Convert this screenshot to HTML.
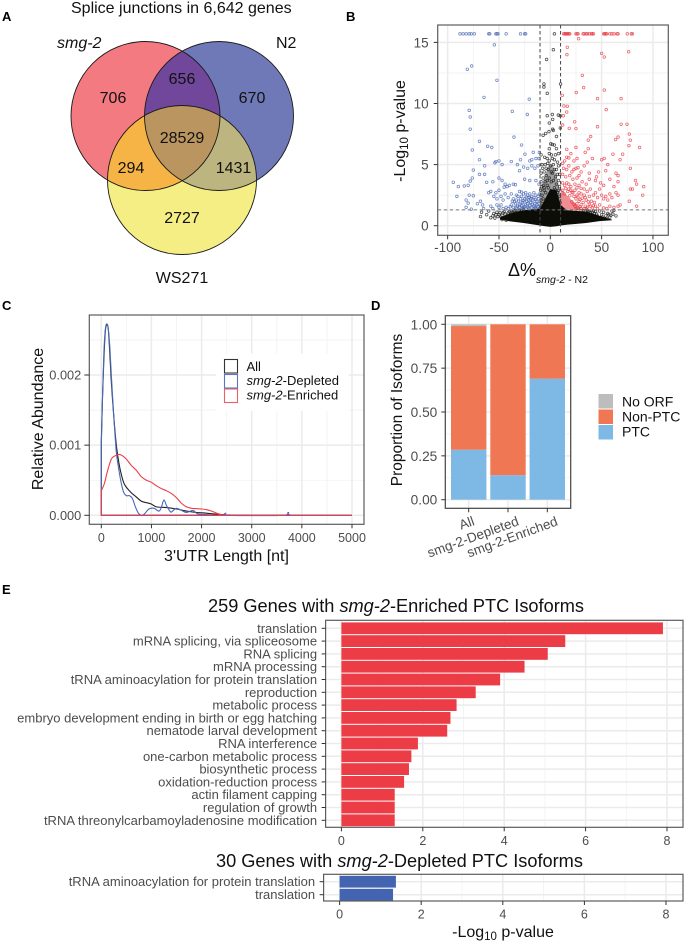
<!DOCTYPE html>
<html lang="en">
<head>
<meta charset="utf-8">
<title>Splice junction figure</title>
<style>
html,body{margin:0;padding:0;background:#fff;}
svg{display:block;font-family:"Liberation Sans",Arial,sans-serif;}
.letter{font-size:13px;font-weight:bold;fill:#000;}
.num{font-size:16px;fill:#111;text-anchor:middle;}
.title{font-size:16px;fill:#111;}
</style>
</head>
<body>
<svg id="fig" xmlns="http://www.w3.org/2000/svg" width="685" height="943" viewBox="0 0 685 943">
  <rect x="0" y="0" width="685" height="943" fill="#fff"/>
  <text class="letter" x="2" y="21">A</text>
  <text class="letter" x="346" y="21">B</text>
  <text class="letter" x="2" y="310">C</text>
  <text class="letter" x="371" y="310">D</text>
  <text class="letter" x="2" y="594">E</text>

  <g>
    <defs>
      <clipPath id="clipSmg"><circle cx="145.5" cy="116" r="74.5"/></clipPath>
      <clipPath id="clipN2"><circle cx="219" cy="116" r="74.5"/></clipPath>
      <clipPath id="clipWs"><circle cx="182" cy="180" r="74.5"/></clipPath>
    </defs>
    <text class="title" x="71" y="13">Splice junctions in 6,642 genes</text>
    <circle cx="145.5" cy="116" r="74.5" fill="#f27a80"/>
    <circle cx="219" cy="116" r="74.5" fill="#6f79b8"/>
    <g clip-path="url(#clipSmg)"><circle cx="219" cy="116" r="74.5" fill="#70479a"/></g>
    <circle cx="182" cy="180" r="74.5" fill="#f5ee85"/>
    <g clip-path="url(#clipWs)">
      <circle cx="145.5" cy="116" r="74.5" fill="#f5b445"/>
      <circle cx="219" cy="116" r="74.5" fill="#bcb57f"/>
      <g clip-path="url(#clipSmg)"><circle cx="219" cy="116" r="74.5" fill="#bb9560"/></g>
    </g>
    <g fill="none" stroke="#1a1a1a" stroke-width="0.9">
      <circle cx="145.5" cy="116" r="74.5"/>
      <circle cx="219" cy="116" r="74.5"/>
      <circle cx="182" cy="180" r="74.5"/>
    </g>
    <text class="title" x="57" y="48" font-style="italic">smg-2</text>
    <text class="title" x="276" y="48">N2</text>
    <text class="num" x="182" y="283">WS271</text>
    <text class="num" x="113" y="103">706</text>
    <text class="num" x="182" y="84">656</text>
    <text class="num" x="252" y="103">670</text>
    <text class="num" x="182" y="143">28529</text>
    <text class="num" x="131" y="173">294</text>
    <text class="num" x="233.5" y="173">1431</text>
    <text class="num" x="182" y="223">2727</text>
  </g>

  <g id="volcano"></g>
  <text transform="translate(405,131) rotate(-90)" text-anchor="middle" font-size="16" fill="#111">-Log<tspan font-size="11.5" dy="3">10</tspan><tspan dy="-3"> p-value</tspan></text>
  <text x="508" y="276" font-size="18" fill="#111">Δ%<tspan font-size="10.5" dy="7" font-style="italic">smg-2</tspan><tspan font-size="10.5"> - N2</tspan></text>

  <g id="density"></g>
  <text transform="translate(43,419) rotate(-90)" text-anchor="middle" font-size="16" fill="#111">Relative Abundance</text>
  <text x="226.5" y="561" text-anchor="middle" font-size="16" fill="#111">3'UTR Length [nt]</text>
  <g>
    <rect x="216" y="354" width="133" height="57" fill="#fff"/>
    <rect x="224.5" y="359.5" width="13" height="13.5" fill="#fff" stroke="#333" stroke-width="1.1"/>
    <rect x="224.5" y="374.5" width="13" height="13.5" fill="#fff" stroke="#5b76bd" stroke-width="1.1"/>
    <rect x="224.5" y="389" width="13" height="13.5" fill="#fff" stroke="#e8606a" stroke-width="1.1"/>
    <text x="246.5" y="371" font-size="13" fill="#111">All</text>
    <text x="246.5" y="385" font-size="13" fill="#111"><tspan font-style="italic">smg-2</tspan>-Depleted</text>
    <text x="246.5" y="399.5" font-size="13" fill="#111"><tspan font-style="italic">smg-2</tspan>-Enriched</text>
  </g>

  <g id="stacked"></g>
  <text transform="translate(402,410) rotate(-90)" text-anchor="middle" font-size="15.5" fill="#111">Proportion of Isoforms</text>
  <g>
    <rect x="598.5" y="394" width="14.5" height="14.5" fill="#bdbdbd"/>
    <rect x="598.5" y="409.5" width="14.5" height="14.5" fill="#ef7753"/>
    <rect x="598.5" y="425" width="14.5" height="14.5" fill="#7eb8e4"/>
    <text x="622" y="406.5" font-size="14" fill="#111">No ORF</text>
    <text x="622" y="421.5" font-size="14" fill="#111">Non-PTC</text>
    <text x="622" y="436.5" font-size="14" fill="#111">PTC</text>
  </g>

  <text x="208" y="612" font-size="18.2" fill="#111">259 Genes with <tspan font-style="italic">smg-2</tspan>-Enriched PTC Isoforms</text>
  <g id="goEnriched"></g>
  <text x="216" y="867" font-size="18.2" fill="#111">30 Genes with <tspan font-style="italic">smg-2</tspan>-Depleted PTC Isoforms</text>
  <g id="goDepleted"></g>
  <text x="503" y="937" text-anchor="middle" font-size="16" fill="#111">-Log<tspan font-size="11.5" dy="3">10</tspan><tspan dy="-3"> p-value</tspan></text>
</svg>

<script>
/* ---------- Volcano data (delta %, -log10 p) ---------- */
const volcanoCap = 15.7;
const blueTopDelta = [-88,-85,-82,-79,-77,-74,-60,-59,-53,-52,-51,-43,-29,-25,-24];
const blackTopDelta = [4];
const redTopDelta = [13,14,15,16,17,18,19,25,26,27,32,33,35,36,38,40,41,42,52,53,54,55,58,60,62,65,66,75,79,80];
const bluePoints = [[-54.5,14.8],[-76.6,13.07],[-80.8,12.8],[-52,11.9],[-64.6,10.5],[-20.5,10.35],[-79,9.44],[-37,9.36],[-78,8.9],[-22.4,9.1],[-78,7.9],[-35.4,7.25],[-69,6.9],[-28,6.6],[-76,6.2],[-61,6.5],[-57,6.4],[-24.7,5.85],[-16.6,6],[-10.7,6],[-69,5.4],[-54,5.15],[-53,5.25],[-50,5.3],[-47,5],[-38,5.25],[-32,5],[-29,5.4],[-20,5.3],[-18,5.4],[-14,5.5],[-11,5.5],[-64,4.9],[-75,4.55],[-69,4.2],[-64,4.2],[-62,3.55],[-76,3.9],[-78,3.65],[-80,3.3],[-83.8,3.25],[-89.6,3.2],[-94.5,3.55],[-91,2.4],[-79,2.5],[-75,2.45],[-82,2.1],[-80,1.85],[-82,1.5],[-77,1.35],[-68,2],[-71,1.8],[-66,1.7],[-65,1.4],[-60,2.7],[-58,2.8],[-56,3.6],[-50,3.9],[-47,3.7],[-44,3.4],[-42,3.2],[-40,3.3],[-36,3.4],[-34,3.35],[-30,4.5],[-26,4.8],[-22,4.7],[-18,4.9],[-15,4.7],[-12,4.9],[-25,3.8],[-20,3.7],[-14,3.7],[-11,3.4],[-45,3.15],[-50,2.9],[-53,2.7],[-55,2.4],[-52,2.2],[-48,2.4],[-46,2.1],[-44,2.6],[-41,2.3],[-38,2.6],[-36,2.2],[-33,2.5],[-30,2.8],[-28,2.75],[-26,2.6],[-24,2.7],[-22,2.5],[-20,2.6],[-18,2.4],[-16,2.7],[-14,2.5],[-12,2.4],[-10.5,2.6],[-31,2],[-29,2.2],[-27,1.9],[-25,2.2],[-23,2],[-21,2.1],[-19,1.9],[-17,2.1],[-15,1.8],[-13,2],[-11,1.8],[-38,1.7],[-36,1.5],[-34,1.8],[-32,1.6],[-30,1.5],[-28,1.65],[-26,1.45],[-24,1.7],[-22,1.5],[-20,1.65],[-18,1.45],[-16,1.6],[-14,1.4],[-12,1.55],[-10.5,1.4],[-58,1.6],[-56,1.4],[-52,1.7],[-50,1.5],[-48,1.7],[-46,1.4],[-43,1.5],[-41,1.4],[-33,2.1],[-31.5,2.4],[-29.5,1.75],[-28,2.4],[-26.5,2.05],[-25,1.55],[-23.5,2.35],[-22,1.8],[-20.5,2.3],[-19,2.2],[-17.5,1.75],[-16,2.3],[-14.5,2.15],[-13,1.7],[-11.5,2.2],[-35,1.95],[-37,2],[-39,1.55],[-33,1.45],[-27,1.4],[-21,1.42],[-15,1.48]];
const redPoints = [[27.6,15.3],[16.6,14.6],[16.2,14],[50,14.1],[52.6,13.8],[76.3,14.24],[31.2,12.3],[32.5,11.3],[52.6,11.1],[25.3,10.9],[11.7,10.67],[46,10.4],[69,10.4],[13.3,9.8],[16.6,9.77],[54.5,9.5],[16,9.3],[12.7,9],[23.7,8.5],[12,8.24],[18.5,7.97],[25,7.95],[46,8.1],[69,8.3],[74.7,8.3],[77,7.5],[39.3,7.3],[37,7],[63.6,7.05],[66,7.25],[78,7],[76.6,6.55],[87,6.4],[37,6.3],[25,6.4],[16,6.25],[70.5,5.85],[61,5.85],[34,6],[20,5.9],[23,5.3],[16,5.6],[18,5.55],[14,5.3],[12,5.1],[26,5.5],[36,5.2],[41,5.5],[50,5.4],[52.5,5.5],[68,5.4],[56,5],[78,4.7],[13,4.7],[16,4.6],[18,4.9],[21,4.4],[23,4.6],[25,4.7],[27,4.75],[30,4.4],[33,4.9],[38,4.3],[45,4],[47,4.4],[54,4.5],[64,4.3],[66,4.1],[12,4.2],[15,4],[19,4.1],[22,3.8],[26,3.9],[28,4.1],[31,3.6],[35,3.4],[38,3.8],[44,3.7],[49,3.5],[52,3.3],[58,3.8],[62,3.2],[66,3.6],[83,3.7],[84,3.4],[80,3],[78,3],[91,3.2],[90,2.5],[77,2],[84,1.6],[68,1.7],[66,1.6],[12,3.5],[14,3.3],[16,3.5],[18,3.4],[20,3.2],[24,3.4],[26,3.1],[28,3.3],[30,3.05],[33,3],[36,2.8],[39,3],[42,2.5],[44,2.7],[46,2.3],[48,3],[50,2.5],[52,2.2],[54,2.4],[56,2.1],[58,2.6],[60,2.3],[64,2.7],[66,2.5],[58,1.6],[62,1.5],[55,1.4],[52,1.45],[48,1.7],[44,1.6],[40,2],[38,2.4],[35,2.1],[33,2.5],[30,2.6],[28,2.7],[26,2.5],[24,2.9],[22,2.7],[20,2.9],[18,3],[32,1.9],[30,1.7],[28,2],[34,1.6],[36,1.5],[38,1.75],[41,1.45],[26,1.8],[24,1.6],[46,1.4],[43,1.9],[30,1.4],[33,1.4],[12,2.9],[13.5,2.6],[15,3.05],[17,2.8],[19,2.45],[21,2.75],[23,2.4],[25,2.2],[27,2.35],[29,2.15],[31,2.25],[34,2.3],[37,1.95],[39,1.6],[29,1.55],[27,1.45],[25,1.35],[23,1.75],[21,1.95],[35,1.4],[42,1.65]];
const blackPoints = [[3,14.4],[-3.6,13.6],[-6.2,11.6],[-6.2,11.35],[-3,10.83],[10,11.6],[2,9.1],[-3,9],[7.8,9.05],[9.7,9],[2.3,8.7],[-1,8.4],[2.3,7.9],[-4.5,7.55],[-1.3,7.7],[2.9,7.8],[9.8,8],[-7,7.4],[6,7.3],[0.5,6.7],[2,6.65],[4,6.6],[-1,6.3],[6,6.3],[8,5.9],[-9,5.8],[-1,5.9],[1,5.8],[-3,5.5],[4,5.4],[7,5.2],[-5,5],[-8,5],[0,4.9],[3,5],[6,4.6],[-2,4.6],[-6,4.4],[-9,4.3],[2,4.3],[9,4.2],[-4,4.1],[5,4],[-7,3.9],[-1,3.9],[8,3.7],[-9,3.6],[-5,3.6],[3,3.7],[-7,3.3],[-3,3.3],[6,3.4],[9,3.2],[-9.5,2.9],[-6,2.9],[-8,2.5],[8,2.9],[-9,2.1],[-7,2.2],[-68,0.75],[-67,1.1],[-60,1.2],[-56,0.8],[-55,1],[-53,0.9],[-51,0.75],[-49,1.05],[-47,0.85],[-45,1.15],[-43,0.6],[-41,1.05],[-38,1.2],[-36,1],[-34,1.25],[-31,1.2],[-58,0.65],[48,1.2],[50,0.9],[52,1.1],[54,0.8],[56,1],[58,0.7],[60,1.2],[62,1.25],[44,1.15],[46,0.8],[42,1.2],[36,1.25],[38,1.2],[53,0.55],[47,0.55],[-47,0.5],[-43,0.45],[-62,0.9],[-54,0.62],[-52,1.1],[-50,0.9],[-48,0.7],[-46,1.05],[-44,0.95],[-42,0.85],[-40,1.15],[-39,0.9],[-37,1.1],[-35,1.2],[-33,1.05],[-30,1.25],[-28,1.2],[-26,1.3],[49,0.65],[51,0.7],[55,0.6],[57,0.9],[59,0.85],[61,0.95],[64,0.8],[45,0.95],[43,1],[41,1.1],[39,1.05],[37,1.15],[34,1.2],[32,1.25],[30,1.22],[-6,3.1],[-4.5,2.7],[-3,3.7],[-2,3.1],[1,3.6],[4,3.1],[5,2.9],[7,2.7],[-8.5,3.2],[-4,4.7],[1,4.4],[4,4.6],[7,4.2],[-7.5,4.7],[-2.5,5.1],[2,5.5],[5,5.8],[-5.5,5.6],[-1,5.3],[8,4.9],[-8,1.8],[-9,1.5],[9,2.4],[9.5,1.9]];
const blobDelta = [-49,-39,-26,-10,-5,0,6,10,16,35,48,60];
const blobUpper = [0.68,1,1.28,1.4,2.2,3,2.9,1.7,1.28,1.15,0.8,0.5];
const blobLower = [0.5,0.35,0.22,0.02,-0.05,-0.1,-0.05,0.02,0.08,0.22,0.38,0.45];
const coneDelta = [-10,-7,-4,-1,2,5,8,10];
const coneUpper = [2.6,3.6,4.4,5,5,4.4,3.4,2.4];
const redDenseDelta = [10,13,16,19,22,25,29];
const redDenseUpper = [3.0,2.8,2.5,2.25,2,1.8,1.5];
const blueDenseDelta = [-36,-30,-24,-18,-12,-10];
const blueDenseUpper = [1.6,2,2.4,2.4,2.1,1.9];
const volcanoXTicks = [-100,-50,0,50,100];
const volcanoXMinor = [-75,-25,25,75];
const volcanoYTicks = [0,5,10,15];
const volcanoYMinor = [2.5,7.5,12.5];
const volcanoThresholdDelta = [-10,10];
const volcanoThresholdP = 1.3;

/* ---------- Density data ---------- */
const densityXTicks = [0,1000,2000,3000,4000,5000];
const densityXMinor = [500,1500,2500,3500,4500];
const densityYTicks = [0,0.001,0.002];
const densityYTickLabels = ["0.000","0.001","0.002"];
const densityYMinor = [0.0005,0.0015,0.0025];
const allLength = [0,25,50,80,110,140,170,200,250,300,350,400,450,500,600,700,800,900,1000,1100,1300,1500,1700,1900,2100,2400,2800,5000];
const allDensity = [0.00105,0.0017,0.0022,0.00262,0.00272,0.00265,0.0023,0.0019,0.0014,0.001,0.00075,0.00058,0.00046,0.0004,0.00032,0.00026,0.0002,0.00018,0.00016,0.00012,0.00011,0.00009,0.00006,0.00004,0.00003,0.00001,0.000003,0];
const depletedLength = [0,25,50,80,110,140,170,200,250,300,350,400,450,500,560,620,680,740,800,860,950,1050,1150,1200,1250,1300,1380,1420,1500,1600,1700,1830,1920,2100,2400,2480,2560,3600,3730,3850,5000];
const depletedDensity = [0.001,0.0017,0.0023,0.00265,0.00273,0.00265,0.0024,0.002,0.0014,0.0009,0.00065,0.00045,0.00032,0.00028,0.00028,0.00024,0.00012,0.00003,0,0.00002,0.00009,0.0001,0.00006,0.00012,0.00022,0.00014,0.00005,0.00006,0.0001,0.00007,0.00004,0.00007,0.00002,0.00001,0,0.00003,0,0,0.00004,0,0];
const enrichedLength = [0,60,120,200,280,350,420,500,600,700,800,900,1000,1100,1200,1300,1400,1500,1600,1700,1800,2000,2100,2200,2300,2400,2600,5000];
const enrichedDensity = [0.00035,0.00045,0.00062,0.0008,0.00085,0.00087,0.00085,0.0008,0.00071,0.00064,0.00055,0.0005,0.00047,0.00042,0.00038,0.00035,0.00031,0.00025,0.00017,0.00012,0.0001,0.00009,0.00008,0.00006,0.00003,0.00001,0,0];

/* ---------- Stacked bar data ---------- */
const isoformCategories = ["All","smg-2-Depleted","smg-2-Enriched"];
const ptcShare = [0.285,0.14,0.69];
const nonPtcShare = [0.705,0.86,0.31];
const noOrfShare = [0.01,0,0];
const isoformYTicks = [0,0.25,0.5,0.75,1];
const isoformYTickLabels = ["0.00","0.25","0.50","0.75","1.00"];
const isoformYMinor = [0.125,0.375,0.625,0.875];

/* ---------- GO term data ---------- */
const enrichedTerms = ["translation","mRNA splicing, via spliceosome","RNA splicing","mRNA processing","tRNA aminoacylation for protein translation","reproduction","metabolic process","embryo development ending in birth or egg hatching","nematode larval development","RNA interference","one-carbon metabolic process","biosynthetic process","oxidation-reduction process","actin filament capping","regulation of growth","tRNA threonylcarbamoyladenosine modification"];
const enrichedValues = [7.9,5.5,5.07,4.5,3.9,3.3,2.83,2.68,2.6,1.88,1.72,1.66,1.54,1.31,1.31,1.31];
const depletedTerms = ["tRNA aminoacylation for protein translation","translation"];
const depletedValues = [1.38,1.31];
const goXTicks = [0,2,4,6,8];
const goXMinor = [1,3,5,7];

/* ---------- Helpers ---------- */
const NS = "http://www.w3.org/2000/svg";
const GRID_MAJOR = "#ebebeb";
const GRID_MINOR = "#f2f2f2";
const TICK_TEXT = "#4d4d4d";
function add(parent, tag, attrs, name, text) {
  const el = document.createElementNS(NS, tag);
  for (const k in attrs) el.setAttribute(k, attrs[k]);
  
  
  if (text !== undefined) el.textContent = text;
  parent.appendChild(el);
  return el;
}
function vLine(g, x, y1, y2, color, w, name) {
  return add(g, "line", {x1:x, x2:x, y1:y1, y2:y2, stroke:color, "stroke-width":w}, name);
}
function hLine(g, y, x1, x2, color, w, name) {
  return add(g, "line", {x1:x1, x2:x2, y1:y, y2:y, stroke:color, "stroke-width":w}, name);
}
function smooth(pts) {
  let d = "M" + pts[0][0].toFixed(2) + " " + pts[0][1].toFixed(2);
  for (let i = 0; i < pts.length - 1; i++) {
    const p0 = pts[Math.max(i-1,0)], p1 = pts[i], p2 = pts[i+1], p3 = pts[Math.min(i+2,pts.length-1)];
    const c1x = p1[0] + (p2[0]-p0[0])/6, c2x = p2[0] - (p3[0]-p1[0])/6;
    let c1y = p1[1] + (p2[1]-p0[1])/6, c2y = p2[1] - (p3[1]-p1[1])/6;
    d += "C" + c1x.toFixed(2) + " " + c1y.toFixed(2) + " " + c2x.toFixed(2) + " " + c2y.toFixed(2) + " " + p2[0].toFixed(2) + " " + p2[1].toFixed(2);
  }
  return d;
}

/* ---------- Panel B: volcano ---------- */
(function () {
  const g = document.getElementById("volcano");
  const L = 437.7, R = 668.3, T = 25, B = 235.3;
  const sx = v => 550.3 + v * 1.0265;
  const sy = v => 225.7 - v * 12.22;
  const poly = (top, bot) => top.concat(bot.reverse()).map(p => p[0].toFixed(1)+","+p[1].toFixed(1)).join(" ");
  add(g, "rect", {x:L, y:T, width:R-L, height:B-T, fill:"#fff"}, "volcano-panel");
  volcanoXMinor.forEach(v => vLine(g, sx(v), T, B, GRID_MINOR, 0.8, "volcano-grid-minor-x"));
  volcanoYMinor.forEach(v => hLine(g, sy(v), L, R, GRID_MINOR, 0.8, "volcano-grid-minor-y"));
  volcanoXTicks.forEach(v => vLine(g, sx(v), T, B, GRID_MAJOR, 1.5, "volcano-grid-major-x"));
  volcanoYTicks.forEach(v => hLine(g, sy(v), L, R, GRID_MAJOR, 1.5, "volcano-grid-major-y"));

  add(g, "polygon", {points: poly(coneDelta.map((x,i) => [sx(x), sy(coneUpper[i])]), coneDelta.map(x => [sx(x), sy(volcanoThresholdP)])), fill:"#111", "fill-opacity":0.4}, "volcano-cone-nonsignificant");
  add(g, "polygon", {points: poly(redDenseDelta.map((x,i) => [sx(x), sy(redDenseUpper[i])]), redDenseDelta.map(x => [sx(x), sy(volcanoThresholdP)])), fill:"#e8404a", "fill-opacity":0.6}, "volcano-dense-enriched");
  add(g, "polygon", {points: poly(blueDenseDelta.map((x,i) => [sx(x), sy(blueDenseUpper[i])]), blueDenseDelta.map(x => [sx(x), sy(volcanoThresholdP)])), fill:"#3f5fb0", "fill-opacity":0.22}, "volcano-dense-depleted");

  const dot = (x, y, color, name) => add(g, "circle", {cx:sx(x).toFixed(2), cy:sy(y).toFixed(2), r:1.3, fill:"none", stroke:color, "stroke-width":0.8, "stroke-opacity":0.7}, name);
  blackPoints.forEach(p => dot(p[0], p[1], "#111", "volcano-point-unchanged"));
  bluePoints.forEach(p => dot(p[0], p[1], "#3f5fb0", "volcano-point-depleted"));
  redPoints.forEach(p => dot(p[0], p[1], "#e5303c", "volcano-point-enriched"));
  blueTopDelta.forEach(x => dot(x, volcanoCap, "#3f5fb0", "volcano-point-depleted-capped"));
  blackTopDelta.forEach(x => dot(x, volcanoCap, "#111", "volcano-point-unchanged-capped"));
  redTopDelta.forEach(x => dot(x, volcanoCap, "#e5303c", "volcano-point-enriched-capped"));

  add(g, "polygon", {points: poly(blobDelta.map((x,i) => [sx(x), sy(blobUpper[i])]), blobDelta.map((x,i) => [sx(x), sy(blobLower[i])])), fill:"#0d0d08"}, "volcano-dense-nonsignificant");

  volcanoThresholdDelta.forEach(v => {
    const l = vLine(g, sx(v), T, B, "#444", 1, "volcano-delta-threshold");
    l.setAttribute("stroke-dasharray", "3.5 2.5");
  });
  const h = hLine(g, sy(volcanoThresholdP), L, R, "#777", 1, "volcano-p-threshold");
  h.setAttribute("stroke-dasharray", "3.5 2.5");

  add(g, "rect", {x:L, y:T, width:R-L, height:B-T, fill:"none", stroke:"#5c5c5c", "stroke-width":1.2}, "volcano-panel-border");
  volcanoXTicks.forEach(v => {
    vLine(g, sx(v), B, B+4, "#333", 1, "volcano-x-tick");
    add(g, "text", {x:sx(v), y:B+16.5, "text-anchor":"middle", "font-size":13.5, fill:TICK_TEXT}, "volcano-x-tick-label", String(v));
  });
  volcanoYTicks.forEach(v => {
    hLine(g, sy(v), L-4, L, "#333", 1, "volcano-y-tick");
    add(g, "text", {x:L-9, y:sy(v)+5, "text-anchor":"end", "font-size":13.5, fill:TICK_TEXT}, "volcano-y-tick-label", String(v));
  });
})();

/* ---------- Panel C: density ---------- */
(function () {
  const g = document.getElementById("density");
  const L = 89.3, R = 364, T = 315, B = 524.3;
  const sx = v => 101.3 + v * 0.05014;
  const sy = v => 515.3 - v * 70150;
  add(g, "rect", {x:L, y:T, width:R-L, height:B-T, fill:"#fff"}, "density-panel");
  densityXMinor.forEach(v => vLine(g, sx(v), T, B, GRID_MINOR, 0.8, "density-grid-minor-x"));
  densityYMinor.forEach(v => hLine(g, sy(v), L, R, GRID_MINOR, 0.8, "density-grid-minor-y"));
  densityXTicks.forEach(v => vLine(g, sx(v), T, B, GRID_MAJOR, 1.5, "density-grid-major-x"));
  densityYTicks.forEach(v => hLine(g, sy(v), L, R, GRID_MAJOR, 1.5, "density-grid-major-y"));

  const curve = (xs, ys, color, name, w) => {
    const pts = xs.map((x,i) => [sx(x), sy(ys[i])]);
    let d = "M" + sx(xs[xs.length-1]).toFixed(2) + " " + sy(0).toFixed(2) + "L" + sx(0).toFixed(2) + " " + sy(0).toFixed(2) + "L";
    d += smooth(pts).slice(1);
    add(g, "path", {d:d, fill:"none", stroke:color, "stroke-width":w, "stroke-linejoin":"round"}, name);
  };
  curve(allLength, allDensity, "#222", "density-curve-all", 1.1);
  curve(depletedLength, depletedDensity, "#4a68b8", "density-curve-depleted", 1.1);
  curve(enrichedLength, enrichedDensity, "#ea3e48", "density-curve-enriched", 1.1);

  add(g, "rect", {x:L, y:T, width:R-L, height:B-T, fill:"none", stroke:"#5c5c5c", "stroke-width":1.2}, "density-panel-border");
  densityXTicks.forEach(v => {
    vLine(g, sx(v), B, B+4, "#333", 1, "density-x-tick");
    add(g, "text", {x:sx(v), y:B+17.5, "text-anchor":"middle", "font-size":12.5, fill:TICK_TEXT}, "density-x-tick-label", String(v));
  });
  densityYTicks.forEach((v,i) => {
    hLine(g, sy(v), L-5, L, "#333", 1, "density-y-tick");
    add(g, "text", {x:L-8, y:sy(v)+4.5, "text-anchor":"end", "font-size":12.8, fill:TICK_TEXT}, "density-y-tick-label", densityYTickLabels[i]);
  });
})();

/* ---------- Panel D: stacked bars ---------- */
(function () {
  const g = document.getElementById("stacked");
  const L = 445.3, R = 570.7, T = 315.7, B = 508.3;
  const sx = i => 468.7 + i * 39.3;
  const sy = v => 499.7 - v * 175.4;
  const bw = 35.4;
  add(g, "rect", {x:L, y:T, width:R-L, height:B-T, fill:"#fff"}, "isoform-panel");
  isoformYMinor.forEach(v => hLine(g, sy(v), L, R, GRID_MINOR, 0.8, "isoform-grid-minor-y"));
  isoformYTicks.forEach(v => hLine(g, sy(v), L, R, GRID_MAJOR, 1.5, "isoform-grid-major-y"));
  isoformCategories.forEach((c,i) => vLine(g, sx(i), T, B, GRID_MAJOR, 1.5, "isoform-grid-major-x"));
  isoformCategories.forEach((c,i) => {
    const x = sx(i) - bw/2;
    add(g, "rect", {x:x, y:sy(ptcShare[i]), width:bw, height:sy(0)-sy(ptcShare[i]), fill:"#7eb8e4"}, "isoform-bar-ptc");
    add(g, "rect", {x:x, y:sy(ptcShare[i]+nonPtcShare[i]), width:bw, height:sy(ptcShare[i])-sy(ptcShare[i]+nonPtcShare[i]), fill:"#ef7753"}, "isoform-bar-non-ptc");
    if (noOrfShare[i] > 0) {
      add(g, "rect", {x:x, y:sy(ptcShare[i]+nonPtcShare[i]+noOrfShare[i]), width:bw, height:sy(ptcShare[i]+nonPtcShare[i])-sy(ptcShare[i]+nonPtcShare[i]+noOrfShare[i]), fill:"#bdbdbd"}, "isoform-bar-no-orf");
    }
  });
  add(g, "rect", {x:L, y:T, width:R-L, height:B-T, fill:"none", stroke:"#444", "stroke-width":1.2}, "isoform-panel-border");
  isoformYTicks.forEach((v,i) => {
    hLine(g, sy(v), L-4, L, "#333", 1, "isoform-y-tick");
    add(g, "text", {x:L-8, y:sy(v)+5, "text-anchor":"end", "font-size":13.7, fill:TICK_TEXT}, "isoform-y-tick-label", isoformYTickLabels[i]);
  });
  const labelOffsetX = [-2, -35, -35];
  const labelY = [523, 537, 537];
  isoformCategories.forEach((c,i) => {
    vLine(g, sx(i), B, B+4, "#333", 1, "isoform-x-tick");
    const cx = sx(i) + labelOffsetX[i];
    add(g, "text", {x:cx, y:labelY[i]+4.5, "text-anchor":"middle", "font-size":13.5, fill:TICK_TEXT, transform:"rotate(-20 "+cx+" "+labelY[i]+")"}, "isoform-x-tick-label", c);
  });
})();

/* ---------- Panel E: GO bars ---------- */
function drawGo(gid, terms, values, frame, color, prefix) {
  const g = document.getElementById(gid);
  const sx = v => frame.x0 + v * frame.k;
  const sy = i => frame.y0 + i * frame.step;
  add(g, "rect", {x:frame.L, y:frame.T, width:frame.R-frame.L, height:frame.B-frame.T, fill:"#fff"}, prefix + "-panel");
  goXMinor.forEach(v => vLine(g, sx(v), frame.T, frame.B, GRID_MINOR, 0.8, prefix + "-grid-minor-x"));
  goXTicks.forEach(v => vLine(g, sx(v), frame.T, frame.B, GRID_MAJOR, 1.5, prefix + "-grid-major-x"));
  terms.forEach((t,i) => hLine(g, sy(i), frame.L, frame.R, GRID_MAJOR, 1.5, prefix + "-grid-major-y"));
  values.forEach((v,i) => {
    add(g, "rect", {x:sx(0), y:sy(i)-5.9, width:sx(v)-sx(0), height:11.8, fill:color}, prefix + "-bar");
  });
  add(g, "rect", {x:frame.L, y:frame.T, width:frame.R-frame.L, height:frame.B-frame.T, fill:"none", stroke:"#5c5c5c", "stroke-width":1.2}, prefix + "-panel-border");
  terms.forEach((t,i) => {
    hLine(g, sy(i), frame.L-4, frame.L, "#333", 1, prefix + "-y-tick");
    add(g, "text", {x:frame.L-8.5, y:sy(i)+4.5, "text-anchor":"end", "font-size":13, fill:TICK_TEXT}, prefix + "-term-label", t);
  });
  goXTicks.forEach(v => {
    vLine(g, sx(v), frame.B, frame.B+4, "#333", 1, prefix + "-x-tick");
    add(g, "text", {x:sx(v), y:frame.B+17.5, "text-anchor":"middle", "font-size":12.5, fill:TICK_TEXT}, prefix + "-x-tick-label", String(v));
  });
}
drawGo("goEnriched", enrichedTerms, enrichedValues, {L:325.6, R:683, T:620.3, B:827.3, x0:341.4, k:40.7, y0:628.3, step:12.8}, "#ec3c46", "enriched");
drawGo("goDepleted", depletedTerms, depletedValues, {L:323.6, R:683, T:874.3, B:901, x0:339.6, k:40.8, y0:881.7, step:13}, "#4364b0", "depleted");
</script>
</body>
</html>
